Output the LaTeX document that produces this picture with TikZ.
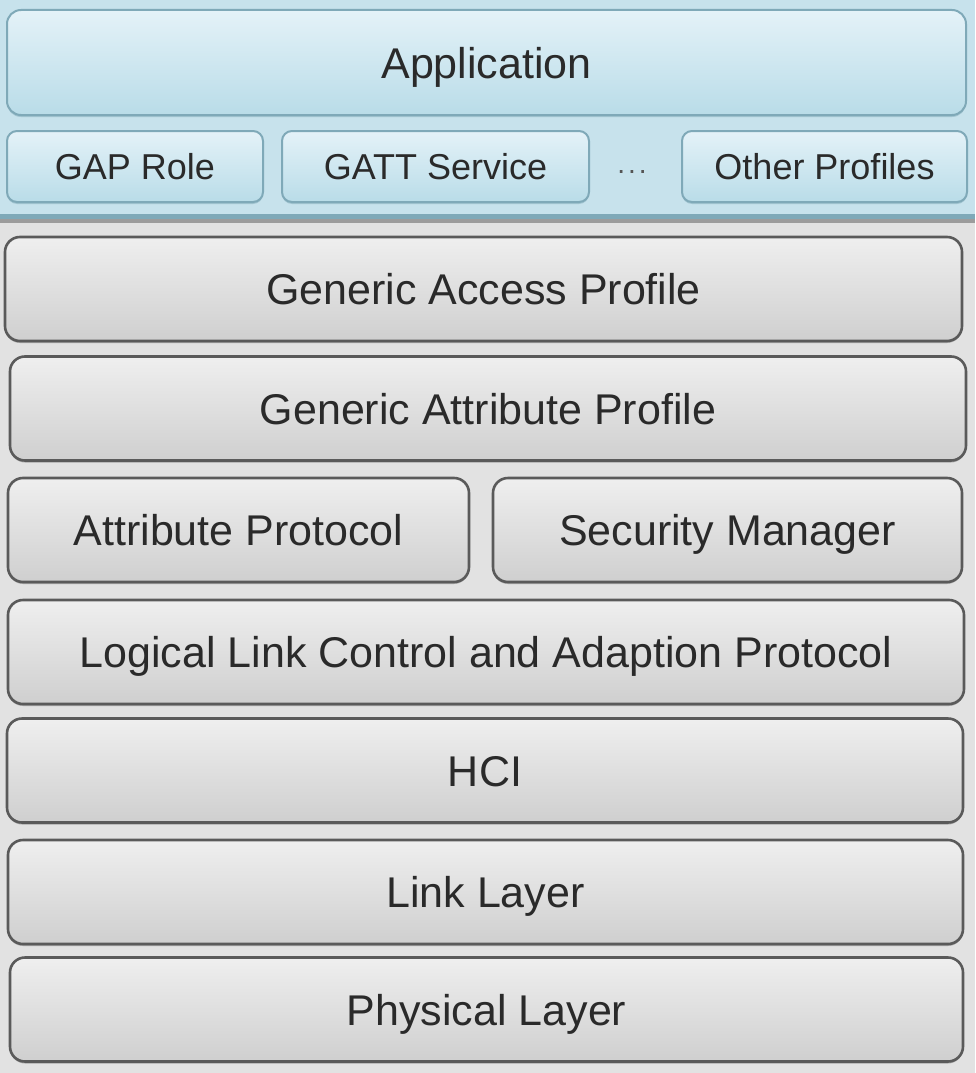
\documentclass[tikz,border=0pt]{standalone}
\usepackage{fontspec}
\setmainfont{Liberation Sans}
\usetikzlibrary{positioning,shadows}

\definecolor{skyback}{HTML}{C7E2EC}
\definecolor{skytop}{HTML}{E4F2F8}
\definecolor{skybot}{HTML}{B9DCE8}
\definecolor{skyedge}{HTML}{7FA9B8}
\definecolor{greyback}{HTML}{E2E2E2}
\definecolor{greytop}{HTML}{EFEFEF}
\definecolor{greybot}{HTML}{CFCFCF}
\definecolor{greyedge}{HTML}{5A5A5A}
\definecolor{labeltext}{HTML}{2A2A2A}

\tikzset{
  layer/.style={draw=greyedge, line width=2.6pt, rounded corners=15pt,
    top color=greytop, bottom color=greybot, text=labeltext,
    font=\fontsize{43}{43}\selectfont, inner sep=0pt,
    text height=31pt, text depth=0pt, minimum height=104pt,
    general shadow={shadow yshift=-2pt, fill=black, opacity=.25}},
  app/.style={draw=skyedge, line width=2pt, rounded corners=14pt,
    top color=skytop, bottom color=skybot, text=labeltext,
    font=\fontsize{43}{43}\selectfont, inner sep=0pt,
    text height=31pt, text depth=0pt,
    general shadow={shadow yshift=-2pt, fill=skyedge, opacity=.5}},
  profile/.style={app, font=\fontsize{36}{36}\selectfont,
    text height=26pt, rounded corners=10pt, minimum height=71pt}
}

\begin{document}
\begin{tikzpicture}[x=1pt, y=-1pt]
\useasboundingbox (0,0) rectangle (975,1073);
\def\xm{485.5}

% backgrounds
\fill[greyback] (0,0) rectangle (975,1073);
\fill[skyback] (0,0) rectangle (975,216);
\fill[skyedge] (0,214) rectangle (975,219);
\fill[greyedge!60] (0,219) rectangle (975,223);

% upper part
\node[app, minimum width=959pt, minimum height=105pt] (app) at (486.5, 62.5) {Application};
\node[profile, minimum width=256pt] (gaprole) at (135, 166.5) {GAP Role};
\node[profile, minimum width=307pt] (gattsrv) at (435.5, 166.5) {GATT Service};
\node[text=labeltext!80, font=\fontsize{28}{28}\selectfont, anchor=base] (dots) at (632, 173) {.\kern3pt.\kern3pt.};
\node[profile, minimum width=285pt] (others) at (824.5, 166.5) {Other Profiles};

% stack
\node[layer, minimum width=957pt] (gap) at (483.5, 289) {Generic Access Profile};
\node[layer, minimum width=956pt] (gatt) at (488, 408.5) {Generic Attribute Profile};
\node[layer, minimum width=461pt] (att) at (238.5, 530) {Attribute Protocol};
\node[layer, minimum width=469pt] (sm) at (727.5, 530) {Security Manager};
\node[layer, minimum width=956pt] (l2cap) at (486, 652) {Logical Link Control and Adaption Protocol};
\node[layer, minimum width=956pt] (hci) at (485, 770.5) {HCI};
\node[layer, minimum width=955pt] (ll) at (\xm, 892) {Link Layer};
\node[layer, minimum width=953pt] (phy) at (486.5, 1009.5) {Physical Layer};
\end{tikzpicture}
\end{document}
